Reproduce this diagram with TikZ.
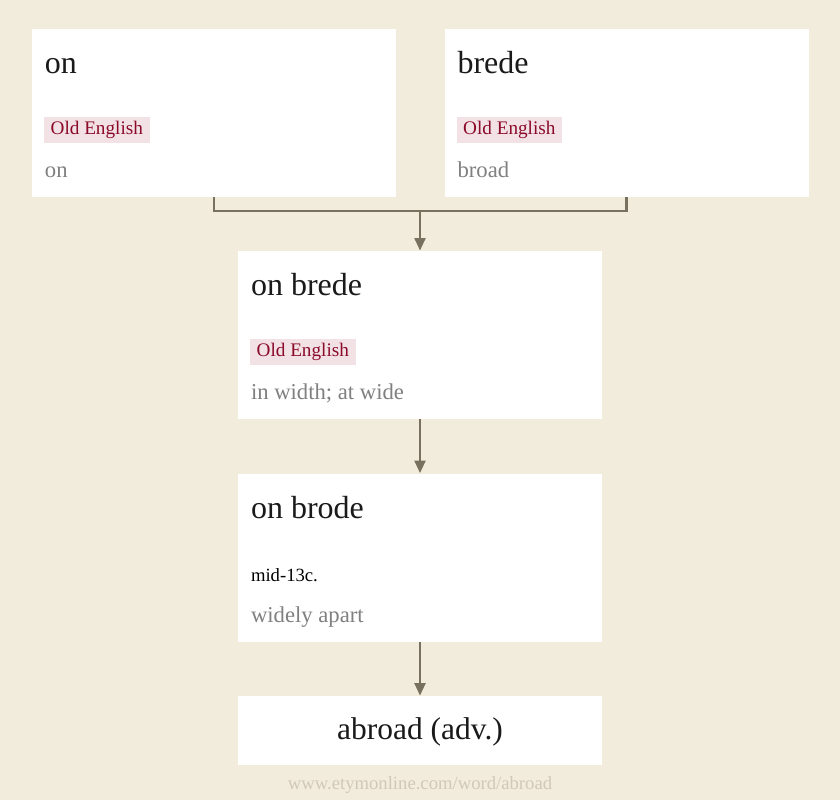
\documentclass[tikz,border=0pt]{standalone}
\usepackage{fontspec}
\setmainfont{Liberation Serif}
\usetikzlibrary{positioning,arrows.meta}

\definecolor{paper}{RGB}{242,236,221}
\definecolor{linkgray}{RGB}{120,113,96}
\definecolor{tagbg}{RGB}{242,226,229}
\definecolor{tagfg}{RGB}{139,10,42}
\definecolor{glossgray}{RGB}{128,128,128}
\definecolor{ink}{RGB}{26,26,26}
\definecolor{faint}{RGB}{208,201,184}

\tikzset{
  card/.style={fill=white, inner sep=0pt, minimum width=273pt, minimum height=126pt},
  word/.style={anchor=base west, inner sep=0pt, text=ink, font=\fontsize{24}{28}\selectfont},
  lang/.style={anchor=west, fill=tagbg, text=tagfg, inner xsep=5pt, inner ysep=0pt,
               minimum height=19.5pt, font=\fontsize{14.4}{17}\selectfont},
  sense/.style={anchor=base west, inner sep=0pt, text=glossgray, font=\fontsize{17}{20}\selectfont},
  date/.style={anchor=base west, inner sep=0pt, text=black, font=\fontsize{14}{17}\selectfont},
  link/.style={draw=linkgray, line width=2.2pt},
  arrow/.style={link, -{Triangle[length=9.5pt,width=8pt]}},
}

\begin{document}
\begin{tikzpicture}[x=0.75pt, y=-0.75pt]

      % Background
      \fill[paper] (0,0) rectangle (840,800);

      % Define nodes
      \node[card]                                 (on)       at (214,113) {};
      \node[card, right=36pt of on]               (brede)    {};
      \node[card]                                 (on-brede) at (420,335) {};
      \node[card, below=40.5pt of on-brede]       (on-brode) {};
      \node[card, below=40.5pt of on-brode, minimum height=51.75pt] (abroad) {};

      \node[word]  (on-word)    at ([shift={(13,45)}]on.north west)  {on};
      \node[lang]  (on-lang)    at ([shift={(12,101)}]on.north west) {Old English};
      \node[sense] (on-gloss)   at ([shift={(13,149)}]on.north west) {on};

      \node[word]  (brede-word)  at ([shift={(13,45)}]brede.north west)  {brede};
      \node[lang]  (brede-lang)  at ([shift={(12,101)}]brede.north west) {Old English};
      \node[sense] (brede-gloss) at ([shift={(13,149)}]brede.north west) {broad};

      \node[word]  (on-brede-word)  at ([shift={(13,45)}]on-brede.north west)  {on brede};
      \node[lang]  (on-brede-lang)  at ([shift={(12,101)}]on-brede.north west) {Old English};
      \node[sense] (on-brede-gloss) at ([shift={(13,149)}]on-brede.north west) {in width; at wide};

      \node[word]  (on-brode-word)  at ([shift={(13,45)}]on-brode.north west)  {on brode};
      \node[date]  (on-brode-date)  at ([shift={(13,108)}]on-brode.north west) {mid-13c.};
      \node[sense] (on-brode-gloss) at ([shift={(13,149)}]on-brode.north west) {widely apart};

      \node[word, anchor=base, font=\fontsize{23.6}{28}\selectfont]
                   (abroad-word) at ([shift={(0,44)}]abroad.north) {abroad (adv.)};

      \node[anchor=base, inner sep=0pt, text=faint, font=\fontsize{14}{17}\selectfont]
                   (source) at ([shift={(0,24)}]abroad.south) {www.etymonline.com/word/abroad};

      % Connect the nodes
      \coordinate (join) at (420,211);
      \draw[link]  (on.south) -- (on.south |- join) -- (brede.south |- join) -- (brede.south);
      \draw[arrow] (join) -- (on-brede.north);
      \draw[arrow] (on-brede.south) -- (on-brode.north);
      \draw[arrow] (on-brode.south) -- (abroad.north);

\end{tikzpicture}
\end{document}
